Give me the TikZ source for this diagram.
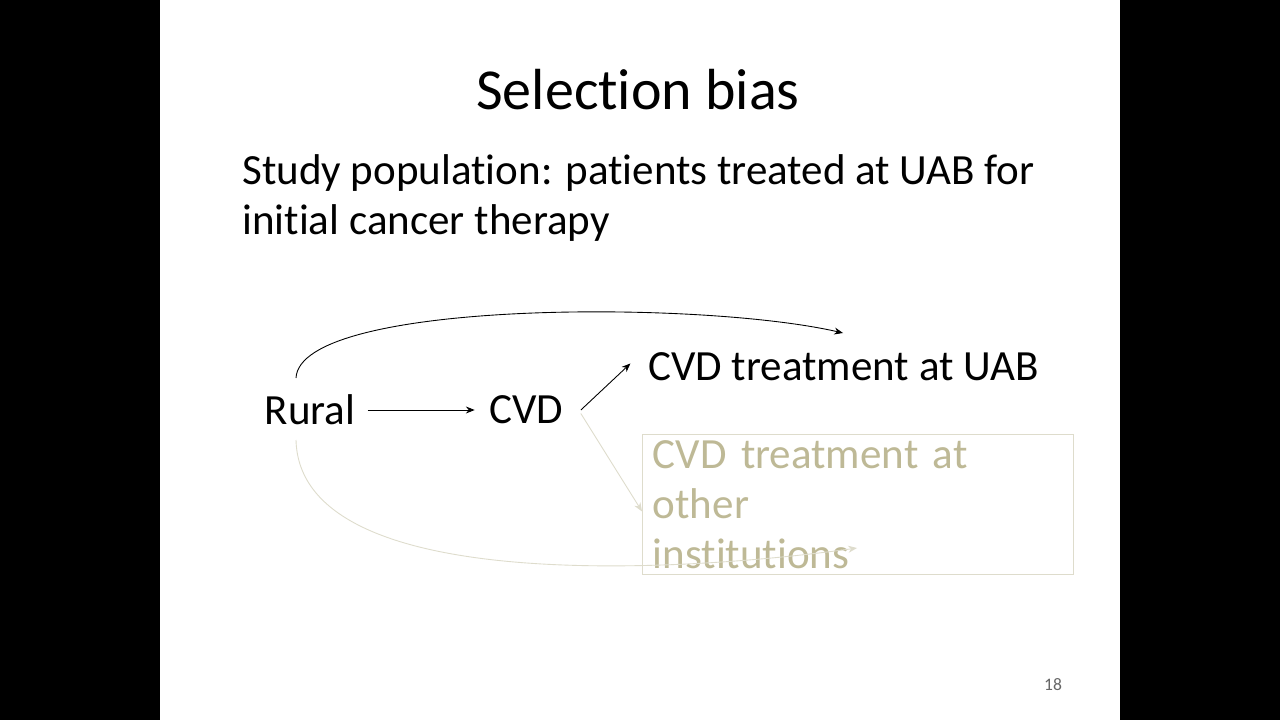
\documentclass[tikz,border=0pt]{standalone}
\usepackage{fontspec}
\setmainfont[Ligatures=NoCommon]{Carlito}
\usetikzlibrary{arrows.meta}
\definecolor{faint}{RGB}{190,185,150}
\definecolor{fainter}{RGB}{222,220,204}
\tikzset{
  var/.style={inner sep=0pt, font=\fontsize{24.5}{29}\selectfont},
  link/.style={-{Stealth[length=5pt,width=4pt]}, line width=0.5pt},
  faintlink/.style={link, draw=fainter}
}
\begin{document}
\begin{tikzpicture}[x=0.02cm,y=-0.02cm]
	\fill[black] (0,0) rectangle (1280,720);
	\fill[white] (160,0) rectangle (1120,720);
	\node[font=\fontsize{33}{40}\selectfont] (title) at (638,90) {Selection bias};
	\node[anchor=north west, inner sep=0pt, align=left, font=\fontsize{24.5}{28.5}\selectfont] (study) at (242,154)
		{Study population: patients treated at UAB for\\initial cancer therapy};

	\node[var] (rural) at (310,410) {Rural};
	\node[var] (cvd) at (526,410) {CVD};
	\node[var, anchor=west] (uab) at (648,367) {CVD treatment at UAB};
	\node[draw=fainter, anchor=north west, minimum width=8.62cm, minimum height=2.24cm,
		text width=8.2cm, align=left, inner xsep=0.2cm, text=faint,
		font=\fontsize{24.5}{28.5}\selectfont] (other) at (642,434)
		{CVD treatment at other\\institutions};

	\draw[link] (rural.east) ++(12,0) -- ([xshift=-8pt]cvd.west);
	\draw[link] ([xshift=10pt]cvd.east) -- ([xshift=-10pt,yshift=2pt]uab.west);
	\draw[faintlink] ([xshift=10pt,yshift=-2pt]cvd.east) -- ([yshift=-4pt]other.west);
	\coordinate (top) at (843,333);
	\coordinate (bot) at (857,548);
	\draw[link] (296,378) .. controls (300,300) and (700,300) .. (top);
	\draw[faintlink] (296,440) .. controls (300,600) and (700,570) .. (bot);
	\node[font=\fontsize{10}{12}\selectfont, text=black!60] (page) at (1053,685) {18};
\end{tikzpicture}
\end{document}
